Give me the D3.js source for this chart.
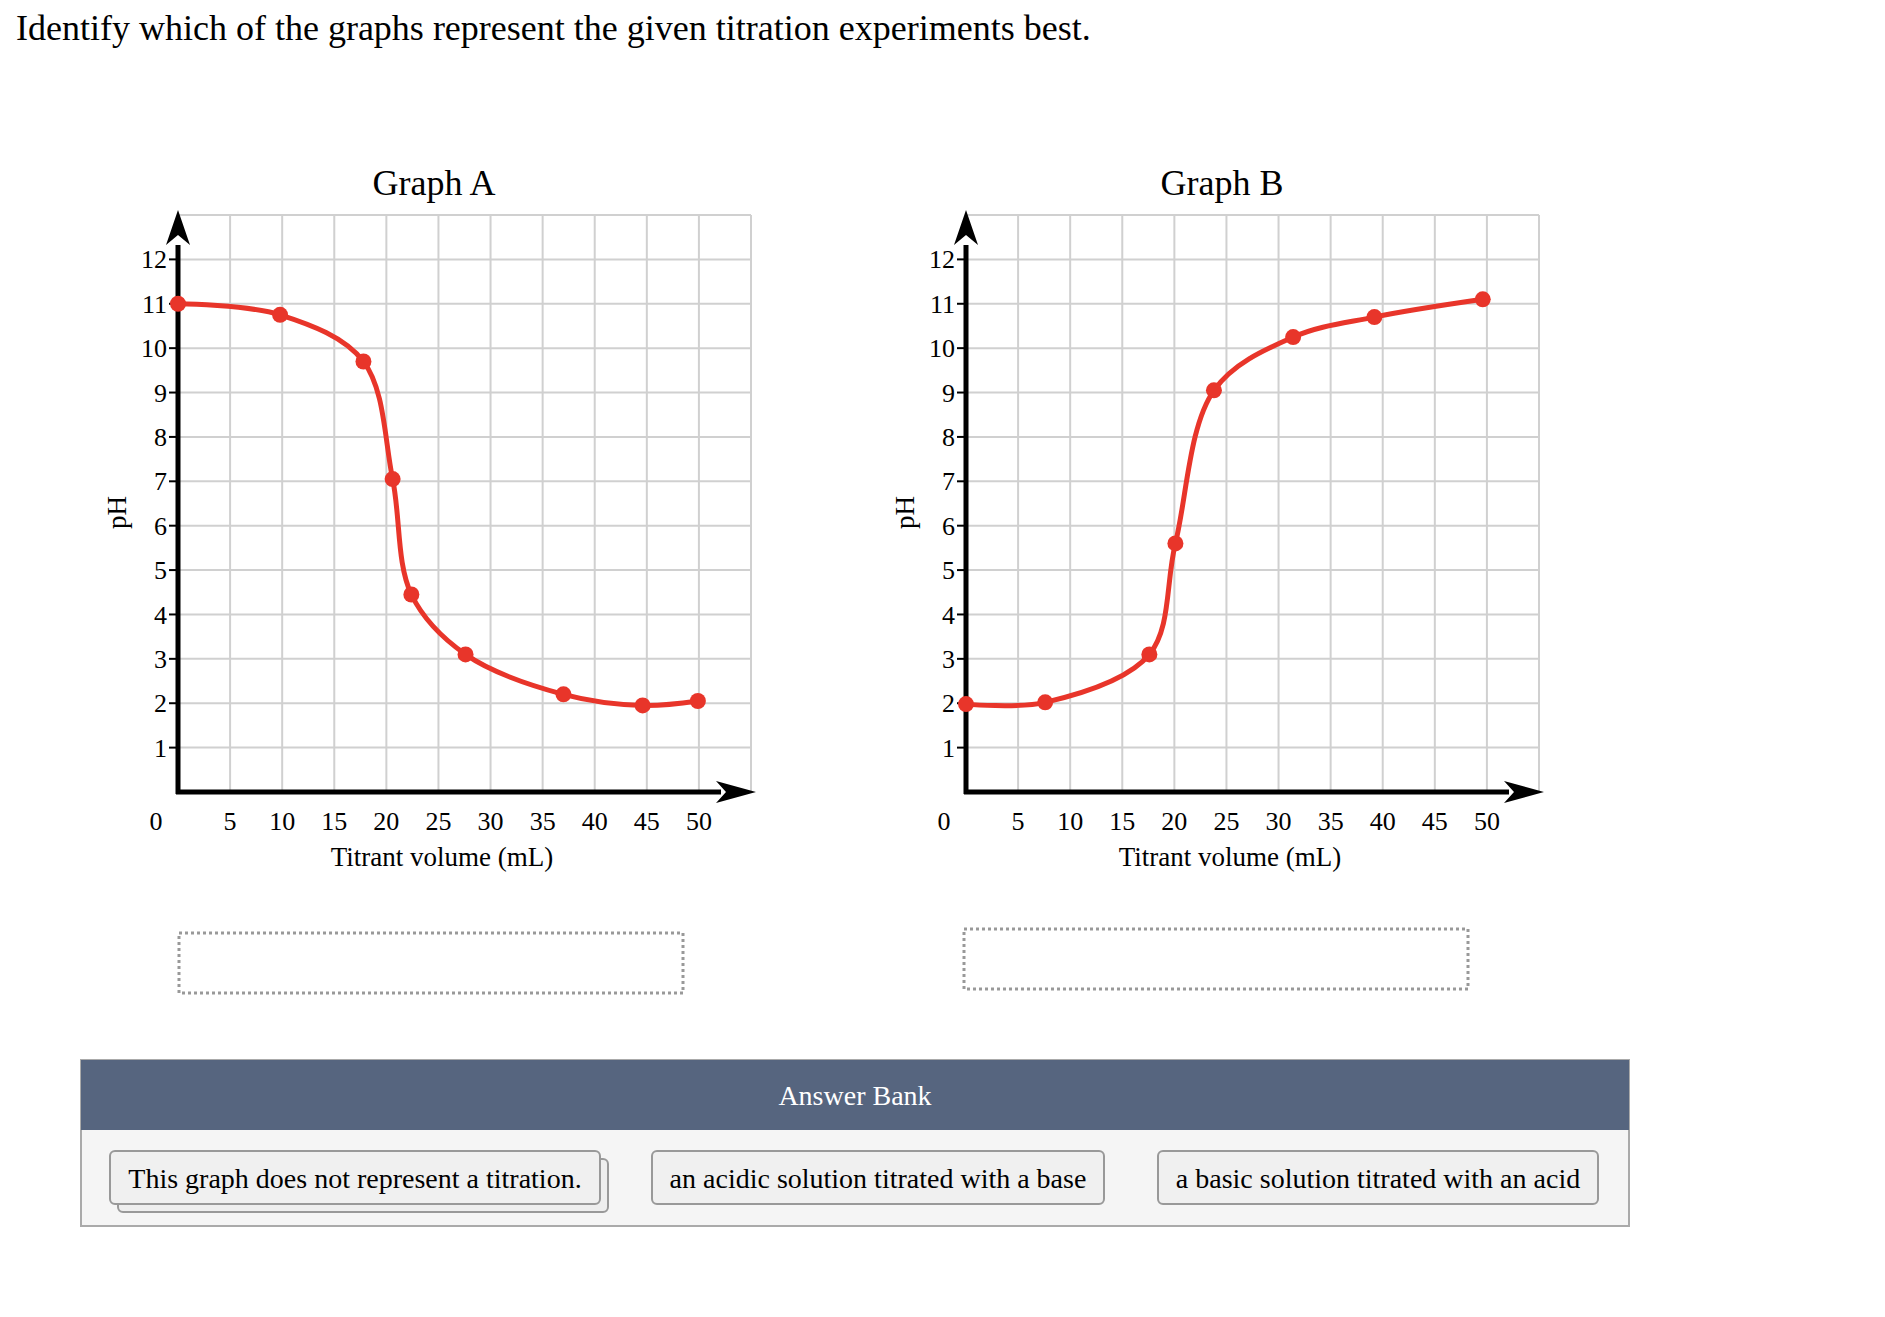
<!DOCTYPE html>
<html>
<head>
<meta charset="utf-8">
<script src="https://cdn.jsdelivr.net/npm/d3@7"></script>
<style>
  body { margin: 0; background: #fff; font-family: "Liberation Serif", serif; }
</style>
</head>
<body>
<div id="chart"></div>
<script>
// Data
var volA = [0, 9.8, 17.8, 20.6, 22.4, 27.6, 37, 44.6, 49.9];
var phA = [11, 10.75, 9.7, 7.05, 4.45, 3.1, 2.2, 1.95, 2.05];
var volB = [0, 7.6, 17.6, 20.1, 23.8, 31.4, 39.2, 49.6];
var phB = [1.98, 2.02, 3.1, 5.6, 9.05, 10.25, 10.7, 11.1];
var xTicks = [5, 10, 15, 20, 25, 30, 35, 40, 45, 50];
var yTicks = [1, 2, 3, 4, 5, 6, 7, 8, 9, 10, 11, 12];
var answers = ["This graph does not represent a titration.", "an acidic solution titrated with a base", "a basic solution titrated with an acid"];

var svgWidth = 1885;
var svgHeight = 1317;
var red = "#e8352a";

var svg = d3.select("#chart").append("svg")
    .attr("width", svgWidth)
    .attr("height", svgHeight);

// Question text
svg.append("text")
    .attr("x", 16).attr("y", 40)
    .attr("font-size", 36)
    .text("Identify which of the graphs represent the given titration experiments best.");

function drawGraph(left, title, vols, phs) {
    var top = 215, bottom = 792;
    var x = d3.scaleLinear().domain([0, 55]).range([left, left + 573]);
    var y = d3.scaleLinear().domain([0, 13]).range([bottom, top]);
    var g = svg.append("g");

    // grid
    g.selectAll(".vg").data(d3.range(5, 56, 5)).enter().append("line")
        .attr("x1", d => x(d)).attr("x2", d => x(d))
        .attr("y1", y(13)).attr("y2", y(0))
        .attr("stroke", "#d0d0d0").attr("stroke-width", 2);
    g.selectAll(".hg").data(d3.range(1, 14)).enter().append("line")
        .attr("x1", x(0)).attr("x2", x(55))
        .attr("y1", d => y(d)).attr("y2", d => y(d))
        .attr("stroke", "#d0d0d0").attr("stroke-width", 2);

    // axes with arrows
    var axisPath = g.append("g");
    axisPath.append("path")
        .attr("d", `M${x(0)},${y(0) + 2} L${x(0)},${y(13) + 30}`)
        .attr("stroke", "#000").attr("stroke-width", 5).attr("fill", "none");
    axisPath.append("path")
        .attr("d", `M${x(0) - 12},${y(13) + 30} L${x(0)},${y(13) - 5} L${x(0) + 12},${y(13) + 30} L${x(0)},${y(13) + 20} Z`)
        .attr("fill", "#000");
    axisPath.append("path")
        .attr("d", `M${x(0) - 2},${y(0)} L${x(55) - 30},${y(0)}`)
        .attr("stroke", "#000").attr("stroke-width", 5).attr("fill", "none");
    axisPath.append("path")
        .attr("d", `M${x(55) - 35},${y(0) - 11} L${x(55) + 5},${y(0)} L${x(55) - 35},${y(0) + 11} L${x(55) - 25},${y(0)} Z`)
        .attr("fill", "#000");

    // y ticks
    g.selectAll(".yt").data(yTicks).enter().append("line")
        .attr("x1", x(0) - 9).attr("x2", x(0))
        .attr("y1", d => y(d)).attr("y2", d => y(d))
        .attr("stroke", "#000").attr("stroke-width", 2);
    g.selectAll(".yl").data(yTicks).enter().append("text")
        .attr("x", x(0) - 11).attr("y", d => y(d))
        .attr("dy", "0.35em").attr("text-anchor", "end")
        .attr("font-size", 26).text(d => d);
    g.selectAll(".xl").data(xTicks).enter().append("text")
        .attr("x", d => x(d)).attr("y", y(0) + 38)
        .attr("text-anchor", "middle")
        .attr("font-size", 26).text(d => d);
    g.append("text")
        .attr("x", x(0) - 22).attr("y", y(0) + 38)
        .attr("text-anchor", "middle").attr("font-size", 26).text("0");

    // labels
    g.append("text")
        .attr("x", x(0) + 256).attr("y", 195)
        .attr("text-anchor", "middle").attr("font-size", 36).text(title);
    g.append("text")
        .attr("x", x(0) + 264).attr("y", 866)
        .attr("text-anchor", "middle").attr("font-size", 27).text("Titrant volume (mL)");
    g.append("text")
        .attr("transform", `translate(${x(0) - 52},${y(6.3)}) rotate(-90)`)
        .attr("text-anchor", "middle").attr("font-size", 27).text("pH");

    // curve
    var pts = vols.map((v, i) => [v, phs[i]]);
    var line = d3.line()
        .x(d => x(d[0])).y(d => y(d[1]))
        .curve(d3.curveCatmullRom.alpha(0.5));
    g.append("path").datum(pts)
        .attr("d", line)
        .attr("fill", "none").attr("stroke", red).attr("stroke-width", 5);
    g.selectAll(".pt").data(pts).enter().append("circle")
        .attr("cx", d => x(d[0])).attr("cy", d => y(d[1]))
        .attr("r", 8).attr("fill", red);
}

drawGraph(178, "Graph A", volA, phA);
drawGraph(966, "Graph B", volB, phB);

// drop boxes
[[179, 933], [964, 929]].forEach(function (p) {
    svg.append("rect")
        .attr("x", p[0]).attr("y", p[1])
        .attr("width", 504).attr("height", 60)
        .attr("fill", "#fff").attr("stroke", "#999")
        .attr("stroke-width", 3).attr("stroke-dasharray", "3,3");
});

// answer bank
svg.append("rect")
    .attr("x", 81).attr("y", 1060).attr("width", 1548).attr("height", 166)
    .attr("fill", "#f5f5f5").attr("stroke", "#aaa").attr("stroke-width", 2);
svg.append("rect")
    .attr("x", 81).attr("y", 1060).attr("width", 1548).attr("height", 70)
    .attr("fill", "#56657f");
svg.append("text")
    .attr("x", 855).attr("y", 1095).attr("dy", "0.35em")
    .attr("text-anchor", "middle").attr("fill", "#fff").attr("font-size", 28)
    .text("Answer Bank");

var buttons = [[110, 490], [652, 452], [1158, 440]];
// stacked shadow under the first button
svg.append("rect")
    .attr("x", 118).attr("y", 1159).attr("width", 490).attr("height", 53).attr("rx", 5)
    .attr("fill", "#eee").attr("stroke", "#999").attr("stroke-width", 2);
buttons.forEach(function (b, i) {
    svg.append("rect")
        .attr("x", b[0]).attr("y", 1151).attr("width", b[1]).attr("height", 53).attr("rx", 5)
        .attr("fill", "#f0f0f0").attr("stroke", "#999").attr("stroke-width", 2);
    svg.append("text")
        .attr("x", b[0] + b[1] / 2).attr("y", 1178).attr("dy", "0.35em")
        .attr("text-anchor", "middle").attr("font-size", 28)
        .text(answers[i]);
});
</script>
</body>
</html>
